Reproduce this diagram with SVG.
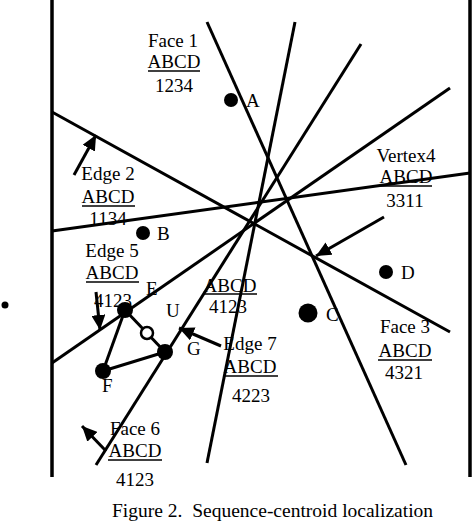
<svg xmlns="http://www.w3.org/2000/svg" width="474" height="525" viewBox="0 0 474 525">
<style>
  text { font-family: "Liberation Serif", "Times New Roman", serif; font-size: 19px; fill: #000; }
  .c { text-anchor: middle; }
  .ln { stroke: #000; stroke-width: 3; fill: none; }
  .bd { stroke: #000; stroke-width: 3.5; fill: none; }
  .ul { stroke: #000; stroke-width: 1.5; }
  .dot { fill: #000; }
  .arr { stroke: #000; stroke-width: 3; fill: none; marker-end: url(#ah); }
</style>
<defs>
  <marker id="ah" markerUnits="userSpaceOnUse" markerWidth="16" markerHeight="14" refX="15" refY="7" orient="auto">
    <path d="M0,0 L15,7 L0,14 z" fill="#000"/>
  </marker>
</defs>
<rect width="474" height="525" fill="#fff"/>

<g id="border">
  <line class="bd" x1="52" y1="0" x2="52" y2="477"/>
  <line class="bd" x1="470" y1="0" x2="470" y2="477"/>
</g>

<g id="connectors">
  <line class="ln" x1="207" y1="22" x2="406" y2="465"/>
  <line class="ln" x1="295" y1="22" x2="207" y2="463"/>
  <line class="ln" x1="361" y1="44" x2="96" y2="465"/>
  <line class="ln" x1="450" y1="88" x2="52" y2="363"/>
  <line class="ln" x1="52" y1="112" x2="450" y2="332"/>
  <line class="ln" x1="52" y1="231" x2="470" y2="173"/>
  <line class="ln" x1="125" y1="310" x2="103" y2="371"/>
  <line class="ln" x1="125" y1="310" x2="165" y2="352"/>
  <line class="ln" x1="103" y1="371" x2="165" y2="352"/>
  <line class="arr" x1="74" y1="175" x2="96" y2="135"/>
  <line class="arr" x1="96" y1="292" x2="100" y2="330"/>
  <line class="arr" x1="384" y1="217" x2="316" y2="256"/>
  <line class="arr" x1="221" y1="346" x2="179" y2="328"/>
  <line class="arr" x1="106" y1="451" x2="82" y2="426"/>
</g>

<g id="face1">
  <text class="c" x="173" y="47">Face 1</text>
  <text class="c" x="174" y="68">ABCD</text>
  <line class="ul" x1="148" y1="71" x2="200" y2="71"/>
  <text class="c" x="174" y="92">1234</text>
</g>
<g id="edge2">
  <text class="c" x="108" y="180">Edge 2</text>
  <text class="c" x="108" y="203">ABCD</text>
  <line class="ul" x1="82" y1="206" x2="135" y2="206"/>
  <text class="c" x="108" y="225">1134</text>
</g>
<g id="edge5">
  <text class="c" x="112" y="257">Edge 5</text>
  <text class="c" x="112" y="279">ABCD</text>
  <line class="ul" x1="86" y1="282" x2="139" y2="282"/>
  <text class="c" x="113" y="307">4123</text>
</g>
<g id="center">
  <text class="c" x="230" y="292">ABCD</text>
  <line class="ul" x1="203" y1="294" x2="257" y2="294"/>
  <text class="c" x="228" y="313">4123</text>
</g>
<g id="edge7">
  <text class="c" x="250" y="350">Edge 7</text>
  <text class="c" x="250" y="373">ABCD</text>
  <line class="ul" x1="223" y1="376" x2="278" y2="376"/>
  <text class="c" x="251" y="402">4223</text>
</g>
<g id="vertex4">
  <text class="c" x="406" y="162">Vertex4</text>
  <text class="c" x="406" y="183">ABCD</text>
  <line class="ul" x1="380" y1="186" x2="432" y2="186"/>
  <text class="c" x="405" y="207">3311</text>
</g>
<g id="face3">
  <text class="c" x="405" y="333">Face 3</text>
  <text class="c" x="405" y="357">ABCD</text>
  <line class="ul" x1="378" y1="360" x2="432" y2="360"/>
  <text class="c" x="404" y="379">4321</text>
</g>
<g id="face6">
  <text class="c" x="135" y="435">Face 6</text>
  <text class="c" x="135" y="457">ABCD</text>
  <line class="ul" x1="108" y1="460" x2="162" y2="460"/>
  <text class="c" x="135" y="486">4123</text>
</g>

<g id="nodeA"><circle class="dot" cx="231" cy="100" r="7"/><text x="246" y="107">A</text></g>
<g id="nodeB"><circle class="dot" cx="143" cy="233" r="7"/><text x="157" y="240">B</text></g>
<g id="nodeC"><circle class="dot" cx="308" cy="313" r="9.5"/><text x="326" y="321">C</text></g>
<g id="nodeD"><circle class="dot" cx="386" cy="272" r="7"/><text x="401" y="279">D</text></g>
<g id="nodeE"><circle class="dot" cx="125" cy="310" r="8"/><text x="146" y="295">E</text></g>
<g id="nodeF"><circle class="dot" cx="103" cy="371" r="8"/><text x="102" y="392">F</text></g>
<g id="nodeG"><circle class="dot" cx="165" cy="352" r="8"/><text x="187" y="355">G</text></g>
<g id="nodeU"><circle cx="147" cy="333" r="6" fill="#fff" stroke="#000" stroke-width="2.5"/><text x="166" y="317">U</text></g>
<g id="leftdot"><circle class="dot" cx="5" cy="305" r="3.5"/></g>

<g id="caption">
  <text x="112" y="517" xml:space="preserve" style="font-size:19.5px">Figure 2.  Sequence-centroid localization</text>
</g>
</svg>
